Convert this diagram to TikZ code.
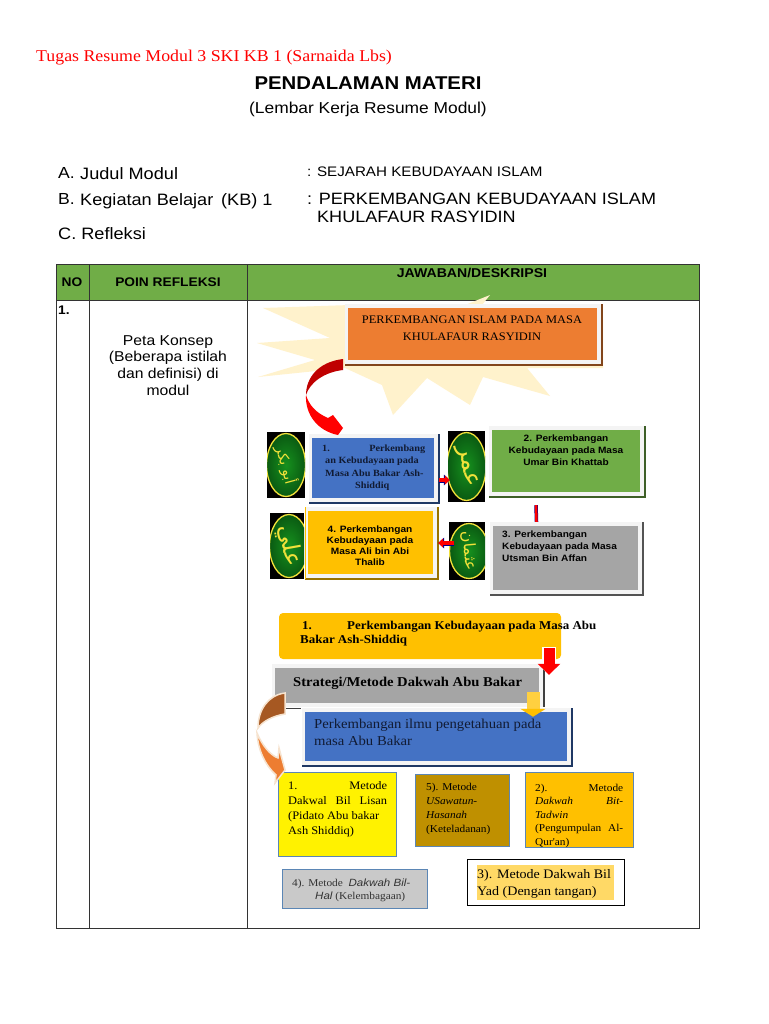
\documentclass[tikz,border=0pt]{standalone}
\usepackage{fontspec}
\usetikzlibrary{fit,arrows.meta,calc}
\setmainfont[FakeStretch=1.1]{Liberation Sans}
\newfontfamily\cmf[FakeStretch=1.08]{Liberation Serif}
\newfontfamily\arabicfont[Script=Arabic]{DejaVu Sans}
\TeXXeTstate=1
\newcommand\fs[2]{\fontsize{#1pt}{#2pt}\selectfont}
\definecolor{hdr}{HTML}{70AD47}
\definecolor{tline}{HTML}{333333}
\definecolor{starc}{HTML}{FFF2CC}
\definecolor{orangeb}{HTML}{ED7D31}
\definecolor{blueb}{HTML}{4472C4}
\definecolor{goldb}{HTML}{FFC000}
\definecolor{greyb}{HTML}{A5A5A5}
\definecolor{frm}{HTML}{F4F4F4}
\definecolor{navy}{HTML}{1F3864}
\definecolor{darknavy}{HTML}{111B33}
\definecolor{bdr}{HTML}{5B86B5}
\definecolor{medin}{HTML}{16901E}
\definecolor{medout}{HTML}{0A5A12}
\definecolor{medgold}{HTML}{F2E23A}
\tikzset{
  tx/.style={inner sep=0pt,anchor=north west,align=left,text=black},
  txc/.style={inner sep=0pt,anchor=north,align=center,text=black},
  rect/.style={inner sep=0pt,line width=1pt},
  medtext/.style={inner sep=0pt,text=medgold},
  redconn/.style={line width=4pt,red,-{Triangle[length=5pt,width=9pt]},preaction={draw=blue!55!black,line width=5pt,-{Triangle[length=6pt,width=10.5pt]}}},
  redbar/.style={line width=2.5pt,red,preaction={draw=blue!55!black,line width=3.5pt}},
}
\newcommand\bevel[7]{%
  \node[fit={(#2,#3)(#4,#5)},inner sep=0pt,fill=frm] (#1) {};
  \draw[#7,line width=1.3pt] (#2,#5) -- (#4,#5) -- (#4,#3);
  \fill[#6] (#2+3,#3+4) rectangle (#4-5,#5-5);
}
\newcommand\medal[9]{%
  \node[fit={(#2,#3)(#4,#5)},inner sep=0pt,fill=black] (#1) {};
  \begin{scope}
    \clip (#2,#3) rectangle (#4,#5);
    \shade[inner color=medin,outer color=medout,draw=medgold,line width=1.3pt]
      ($(#1.center)+(#8,0)$) ellipse [x radius=19.5,y radius={(#5-#3)/2-1.5}];
    \node[medtext,font=\arabicfont\fs{#7}{#7},rotate=#9] at ($(#1.center)+(#8,0)$) {#6};
  \end{scope}
}
\begin{document}
\begin{tikzpicture}[x=1pt,y=-1pt]
\useasboundingbox (0,0) rectangle (768,1024);
\fill[white] (0,0) rectangle (768,1024);
% page head
\node[tx,text=red,font=\cmf\fs{16.5}{18}] (head) at (36,50) {Tugas Resume Modul 3 SKI KB 1 (Sarnaida Lbs)};
\node[txc,font=\bfseries\fs{18.5}{20}] (t1) at (368,76.5) {PENDALAMAN MATERI};
\node[txc,font=\fs{15.8}{17}] (t2) at (368,102) {(Lembar Kerja Resume Modul)};
\node[tx,font=\fs{16}{17}] (a1) at (58,167) {A.};
\node[tx,font=\fs{16.5}{17}] (a2) at (80,167) {Judul Modul};
\node[tx,font=\fs{13.8}{17}] (a3) at (307,167) {: SEJARAH KEBUDAYAAN ISLAM};
\node[tx,font=\fs{16}{17}] (b1t) at (58,193) {B.};
\node[tx,font=\fs{16.5}{17}] (b2t) at (80,193) {Kegiatan Belajar\, (KB) 1};
\node[tx,font=\fs{16.4}{17}] (b3t) at (307,193) {: PERKEMBANGAN KEBUDAYAAN ISLAM};
\node[tx,font=\fs{16.4}{17}] (b4t) at (317,211) {KHULAFAUR RASYIDIN};
\node[tx,font=\fs{16.5}{17}] (c1t) at (58,227) {C. Refleksi};
% table
\fill[hdr] (56,264) rectangle (699,300);
\draw[tline,line width=1pt] (56,264) rectangle (699,928);
\draw[tline,line width=1pt] (56,300) -- (699,300);
\draw[tline,line width=1pt] (89,264) -- (89,928);
\draw[tline,line width=1pt] (247,264) -- (247,928);
\node[txc,font=\bfseries\fs{12.5}{14}] (h1) at (72,278) {NO};
\node[txc,font=\bfseries\fs{12.5}{14}] (h2) at (168,278) {POIN REFLEKSI};
\node[txc,font=\bfseries\fs{12.8}{14}] (h3) at (472,268) {JAWABAN/DESKRIPSI};
\node[tx,font=\bfseries\fs{12.5}{14}] (n1) at (58,306) {1.};
\node[txc,font=\fs{14.3}{16.7}] (pk) at (168,335) {Peta Konsep\\(Beberapa istilah\\dan definisi) di\\modul};
% star
\fill[starc] (263,308) -- (330,338) -- (257,343) -- (315,360) -- (258,377) -- (345,368) -- (382,385)
  -- (393,415) -- (427,378) -- (470,405) -- (483,377) -- (550,396) -- (527,368) -- (603,368)
  -- (603,320) -- (470,320) -- (490,295) -- (465,305) -- (350,305) -- cycle;
% title
\bevel{title}{345}{304}{602}{365}{orangeb}{orangeb!55!black}
\node[txc,font=\cmf\fs{11.5}{16.5}] (titlet) at (472,316) {PERKEMBANGAN ISLAM PADA MASA\\KHULAFAUR RASYIDIN};
% upper four boxes
\bevel{bone}{309}{434}{439}{503}{blueb}{navy}
\bevel{btwo}{489}{426}{645}{497}{hdr}{hdr!55!black}
\bevel{bthree}{490}{522}{643}{595}{greyb}{greyb!50!black}
\bevel{bfour}{305}{507}{438}{579}{goldb}{goldb!60!black}
\draw[goldb,line width=1pt] (305,579) -- (305,507);
% red curved arrow
\fill[red!75!black] (343,359) .. controls (318,362) and (306,378) .. (306,395) .. controls (310,382) and (325,372) .. (343,370) -- cycle;
\fill[red] (306,395) .. controls (305,415) and (318,431) .. (338,435) -- (343,428) -- (333,415) -- (328,418) .. controls (316,413) and (309,405) .. (306,395) -- cycle;
\node[tx,font=\cmf\bfseries\fs{9.5}{12.2},text=darknavy] (bonet) at (322,445) {\makebox[103pt][s]{1.\hfill Perkembang}\\\hspace*{3pt}an Kebudayaan pada\\\hspace*{3pt}Masa Abu Bakar Ash-\\\hspace*{33pt}Shiddiq};
\node[txc,font=\bfseries\fs{9.2}{12}] (btwot) at (566,435) {2. Perkembangan\\Kebudayaan pada Masa\\Umar Bin Khattab};
\node[tx,font=\bfseries\fs{9.2}{12}] (bthreet) at (502,531) {3. Perkembangan\\Kebudayaan pada Masa\\Utsman Bin Affan};
\node[txc,font=\bfseries\fs{9.2}{10.8}] (bfourt) at (370,526) {4. Perkembangan\\Kebudayaan pada\\Masa Ali bin Abi\\Thalib};
% medallions
\medal{mone}{267}{432}{305}{498}{\beginR أبو بكر\endR}{14}{0}{-75}
\medal{mtwo}{448}{431}{485}{502}{\beginR عمر\endR}{24}{0}{-80}
\medal{mthree}{449}{522}{485}{580}{\beginR عثمان\endR}{16}{2}{-85}
\medal{mfour}{270}{513}{304}{579}{\beginR علي\endR}{24}{2}{-80}
% small connectors
\draw[redconn] ([yshift=-11.5pt]bone.east) -- ([xshift=2pt,yshift=-13.5pt]mtwo.west);
\draw[redbar] ([xshift=-31pt,yshift=-8pt]btwo.south) -- ([xshift=-30pt]bthree.north);
\draw[redconn] ([xshift=5pt,yshift=8pt]mthree.west) -- ([yshift=0pt]bfour.east);
% lower section
\node[fit={(279,613)(561,659)},inner sep=0pt,fill=goldb,rounded corners=4pt] (ybox) {};
\node[tx,font=\cmf\bfseries\fs{12}{14.5}] (yboxa) at (302,621) {1.};
\node[tx,font=\cmf\bfseries\fs{12}{14.5}] (yboxb) at (347,621) {Perkembangan Kebudayaan pada Masa Abu};
\node[tx,font=\cmf\bfseries\fs{12}{14.5}] (yboxc) at (300,635) {Bakar Ash-Shiddiq};
\node[fit={(272,664)(544,707)},inner sep=0pt,fill=frm] (gbox) {};
\fill[greyb] (275,668) rectangle (539,703);
\draw[black!75,line width=1.2pt] (544,664) -- (544,707);
\draw[black!75,line width=1pt] (286,708) -- (301,708);
\node[tx,font=\cmf\bfseries\fs{13.5}{15}] (gboxt) at (293,677) {Strategi/Metode Dakwah Abu Bakar};
\bevel{bbox}{302}{708}{572}{766}{blueb}{navy}
\node[tx,font=\cmf\fs{13.6}{17},text=darknavy] (bboxt) at (314,719) {Perkembangan ilmu pengetahuan pada\\masa Abu Bakar};
% method boxes
\node[fit={(278,772)(396,856)},rect,fill=yellow,draw=bdr] (m1) {};
\node[tx,font=\cmf\fs{11.5}{15.2}] (m1t) at (288,781) {\makebox[99pt][s]{1.\hfill Metode}\\\makebox[99pt][s]{Dakwal\hfill Bil\hfill Lisan}\\(Pidato Abu bakar\\Ash Shiddiq)};
\node[fit={(415,774)(509,846)},rect,fill=goldb!75!black,draw=bdr] (m5) {};
\node[tx,font=\cmf\fs{10.5}{13.7}] (m5t) at (426,783.5) {5). Metode\\\textit{USawatun-}\\\textit{Hasanah}\\(Keteladanan)};
\node[fit={(525,772)(633,847)},rect,fill=goldb,draw=bdr] (m2) {};
\node[tx,font=\cmf\fs{10.5}{13.5}] (m2t) at (535,784) {\makebox[88pt][s]{2).\hfill Metode}\\\makebox[88pt][s]{\textit{Dakwah}\hfill\textit{Bit-}}\\\textit{Tadwin}\\\makebox[88pt][s]{(Pengumpulan Al-}\\Qur'an)};
\node[fit={(467,859)(624,905)},rect,fill=white,draw=black] (m3) {};
\fill[goldb!60!white] (477,865) rectangle (614,900);
\node[tx,font=\cmf\fs{13}{17.5}] (m3t) at (477,869) {3). Metode Dakwah Bil\\Yad (Dengan tangan)};
\node[fit={(282,869)(427,908)},rect,fill=black!21,draw=bdr] (m4) {};
\node[tx,font=\cmf\fs{10.5}{13.5},text=black!80] (m4a) at (292,879) {4). Metode \;{\normalfont\itshape Dakwah Bil-}};
\node[tx,font=\cmf\fs{10.5}{13.5},text=black!80] (m4b) at (315,892) {{\normalfont\itshape Hal} (Kelembagaan)};
% block arrows
\draw[white,line width=14pt,-{Triangle[length=12pt,width=24pt]}] ([xshift=129pt,yshift=12pt]ybox.south) -- ([xshift=141pt,yshift=-11pt]gbox.north);
\draw[red,line width=11pt,-{Triangle[length=11pt,width=22pt]}] ([xshift=129pt,yshift=11pt]ybox.south) -- ([xshift=141pt,yshift=-11pt]gbox.north);
\draw[goldb!75!white,line width=13pt,-{Triangle[length=8pt,width=25pt,fill=goldb,color=goldb]}] ([xshift=125pt,yshift=-6.5pt]gbox.center) -- ([xshift=96pt,yshift=-9pt]bbox.north);
% orange curved arrow
\filldraw[draw=frm!85!orange,line width=1.5pt,fill=orangeb!70!black] (285,693) .. controls (268,695) and (258,710) .. (258,728) .. controls (262,722) and (272,716) .. (285,714) -- cycle;
\filldraw[draw=frm!85!orange,line width=1.5pt,fill=orangeb] (257,733) .. controls (258,750) and (265,765) .. (276,775) -- (275,783) -- (285,770) -- (279,748) -- (278,758) .. controls (270,755) and (262,745) .. (257,733) -- cycle;
\end{tikzpicture}
\end{document}
